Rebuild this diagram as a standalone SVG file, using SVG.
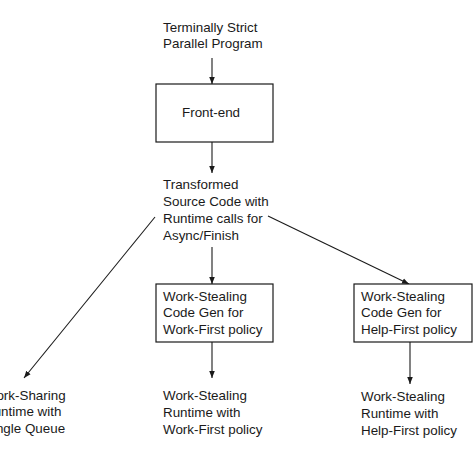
<svg xmlns="http://www.w3.org/2000/svg" width="474" height="474" viewBox="0 0 474 474">
<defs>
<style>
text{font-family:"Liberation Sans",Arial,sans-serif;font-size:13.4px;fill:#1a1a1a}
.box{fill:#fff;stroke:#1a1a1a;stroke-width:1.2}
.edge{fill:none;stroke:#1a1a1a;stroke-width:1.1;marker-end:url(#ah)}
</style>
<marker id="ah" markerUnits="userSpaceOnUse" markerWidth="8" markerHeight="8" viewBox="0 0 8 8" refX="7" refY="4" orient="auto">
<path d="M0,1.2 L7,4 L0,6.8 Z" fill="#1a1a1a"/>
</marker>
</defs>
<rect width="474" height="474" fill="#fff"/>
<g id="connectors">
<line class="edge" x1="212" y1="58" x2="212" y2="84"/>
<line class="edge" x1="212" y1="142" x2="212" y2="173"/>
<line class="edge" x1="212" y1="247" x2="212" y2="284"/>
<line class="edge" x1="155" y1="217" x2="24" y2="378"/>
<line class="edge" x1="268" y1="216" x2="409" y2="284"/>
<line class="edge" x1="212" y1="342" x2="212" y2="378"/>
<line class="edge" x1="410" y1="342" x2="410" y2="384"/>
</g>
<g id="input">
<text x="163" y="32">Terminally Strict</text>
<text x="163" y="48">Parallel Program</text>
</g>
<g id="frontend">
<rect class="box" x="156" y="84" width="117" height="58"/>
<text x="182" y="117">Front-end</text>
</g>
<g id="transformed">
<text x="163" y="189">Transformed</text>
<text x="163" y="206">Source Code with</text>
<text x="163" y="223">Runtime calls for</text>
<text x="163" y="240">Async/Finish</text>
</g>
<g id="codegen-wf">
<rect class="box" x="156" y="284" width="117" height="58"/>
<text x="163" y="301">Work-Stealing</text>
<text x="163" y="317">Code Gen for</text>
<text x="163" y="334">Work-First policy</text>
</g>
<g id="codegen-hf">
<rect class="box" x="354" y="284" width="118" height="58"/>
<text x="361" y="301">Work-Stealing</text>
<text x="361" y="317">Code Gen for</text>
<text x="361" y="334">Help-First policy</text>
</g>
<g id="runtime-ws">
<text x="-16" y="400">Work-Sharing</text>
<text x="-16" y="416">Runtime with</text>
<text x="-16" y="433">Single Queue</text>
</g>
<g id="runtime-wf">
<text x="163" y="400">Work-Stealing</text>
<text x="163" y="417">Runtime with</text>
<text x="163" y="434">Work-First policy</text>
</g>
<g id="runtime-hf">
<text x="361" y="401">Work-Stealing</text>
<text x="361" y="418">Runtime with</text>
<text x="361" y="435">Help-First policy</text>
</g>
</svg>
